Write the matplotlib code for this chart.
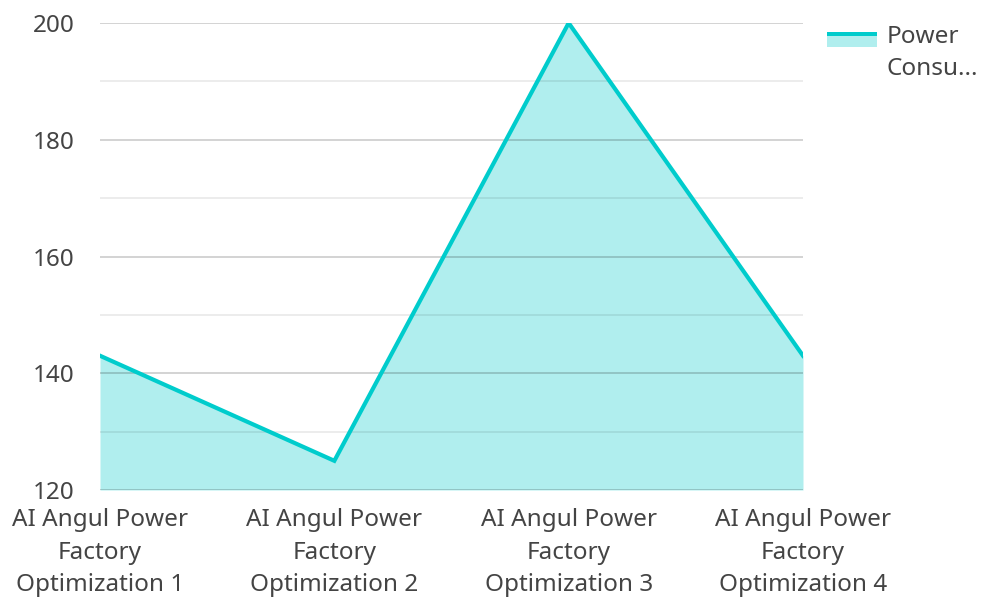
import matplotlib.pyplot as plt
from matplotlib.patches import Rectangle
from matplotlib.ticker import MultipleLocator

plt.rcParams['font.family'] = ['Noto Sans', 'DejaVu Sans']

# datos
categorias = ['AI Angul Power\nFactory\nOptimization 1',
              'AI Angul Power\nFactory\nOptimization 2',
              'AI Angul Power\nFactory\nOptimization 3',
              'AI Angul Power\nFactory\nOptimization 4']
consumo = [143, 125, 200, 143]
serie = 'Power\nConsu...'

linea = '#00CCCC'
relleno = '#B0EEEE'
texto = '#444444'

fig = plt.figure(figsize=(9.81, 5.97), dpi=100)
ax = fig.add_axes([100/981, 107/597, 703/981, 467/597])

x = list(range(len(categorias)))
ax.fill_between(x, consumo, 120, color=relleno, lw=0, zorder=1)
ax.plot(x, consumo, color=linea, lw=3, zorder=3, solid_joinstyle='miter')

ax.set_xlim(0, len(categorias) - 1)
ax.set_ylim(120, 200)
ax.yaxis.set_major_locator(MultipleLocator(20))
ax.yaxis.set_minor_locator(MultipleLocator(10))
ax.grid(which='major', axis='y', color='#000000', alpha=0.2, lw=1.2, zorder=2)
ax.grid(which='minor', axis='y', color='#000000', alpha=0.09, lw=1.2, zorder=2)
ax.set_axisbelow(False)
for sp in ax.spines.values():
    sp.set_visible(False)
ax.tick_params(which='both', length=0, labelsize=17.5, colors=texto)
ax.tick_params(axis='y', pad=18)
ax.tick_params(axis='x', pad=13)
ax.set_xticks(x)
ax.set_xticklabels(categorias, linespacing=1.47)

# leyenda
fig.patches.append(Rectangle((827/981, (597-47)/597), 50/981, 14/597,
                             transform=fig.transFigure, color=relleno, lw=0))
fig.patches.append(Rectangle((827/981, (597-36)/597), 50/981, 4/597,
                             transform=fig.transFigure, color=linea, lw=0))
fig.text(887/981, (597-25)/597, serie, va='top', ha='left',
         fontsize=17.5, color=texto, linespacing=1.47)

fig.savefig('out.png', dpi=100, facecolor='white')
